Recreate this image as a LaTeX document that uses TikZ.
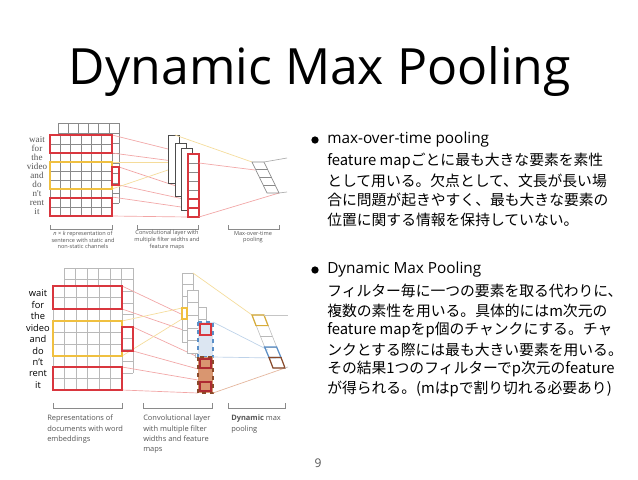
\documentclass[tikz,border=0pt]{standalone}
\usepackage{fontspec}
\setmainfont{Open Sans}
\newfontfamily\cjk{Noto Sans CJK JP}
\newfontfamily\serifw{Liberation Serif}
\definecolor{rd}{HTML}{D9363E}
\definecolor{ye}{HTML}{F0C040}
\definecolor{gr}{HTML}{8A8A8A}
\definecolor{pk}{HTML}{F2A5A5}
\definecolor{ly}{HTML}{F5DC9A}
\definecolor{bl}{HTML}{5A8FC8}
\definecolor{lb}{HTML}{DCE6F2}
\definecolor{or}{HTML}{D99670}
\definecolor{br}{HTML}{8A4A2A}
\definecolor{tx}{HTML}{555555}
\begin{document}
\begin{tikzpicture}[x=0.75pt,y=-0.75pt,
  grid/.style={draw=gr,line width=0.5pt},
  gridl/.style={draw=gr!60,line width=0.4pt},
  rbox/.style={draw=rd,line width=1pt},
  ybox/.style={draw=ye,line width=1pt},
  pl/.style={draw=pk,line width=0.5pt},
  yl/.style={draw=ly,line width=0.5pt},
  brk/.style={draw=gr,line width=0.5pt},
  sm/.style={font=\fontsize{4.2}{5}\selectfont,text=tx,align=center},
  lab/.style={font=\fontsize{5.6}{7.6}\selectfont,text=tx,align=left,anchor=north west,inner sep=0pt},
  jp/.style={font=\cjk\fontsize{11.1}{12}\selectfont,anchor=west,inner sep=0pt},
  bul/.style={font=\fontsize{11.5}{13}\selectfont,anchor=west,inner sep=0pt},
  dot/.style={circle,fill=black,inner sep=0pt,minimum size=5.5pt}]
\useasboundingbox (0,0) rectangle (638,479);
\fill[white] (0,0) rectangle (638,479);
\node (title) at (320,72) {\fontsize{37.5}{44}\selectfont Dynamic Max Pooling};
% ---------- right text
\node[dot] (b1) at (315,140) {};
\node[bul] (t1) at (327,140) {max-over-time pooling};
\node[jp] (j1) at (327,161) {feature mapごとに最も大きな要素を素性};
\node[jp] (j2) at (327,180.5) {として用いる。欠点として、文長が長い場};
\node[jp] (j3) at (327,200) {合に問題が起きやすく、最も大きな要素の};
\node[jp] (j4) at (327,219.5) {位置に関する情報を保持していない。};
\node[dot] (b2) at (315,270) {};
\node[bul] (t2) at (327,270) {Dynamic Max Pooling};
\node[jp] (k1) at (327,291) {フィルター毎に一つの要素を取る代わりに、};
\node[jp] (k2) at (327,310.5) {複数の素性を用いる。具体的にはm次元の};
\node[jp] (k3) at (327,330) {feature mapをp個のチャンクにする。チャ};
\node[jp] (k4) at (327,349.5) {ンクとする際には最も大きい要素を用いる。};
\node[jp] (k5) at (327,369) {その結果1つのフィルターでp次元のfeature};
\node[jp] (k6) at (327,388.5) {が得られる。(mはpで割り切れる必要あり)};
\node (pg) at (318,463) {\fontsize{9}{10}\selectfont\color{tx}9};
% ---------- top diagram
\fill[white] (58,123) rectangle (119,203);
\foreach \i in {0,...,6} \draw[grid] (58+\i*10.17,123) -- (58+\i*10.17,203);
\foreach \j in {0,...,8} \draw[grid] (58,123+\j*10) -- (119,123+\j*10);
\draw[pl] (112,135) -- (188,154);
\draw[pl] (112,153) -- (188,163);
\draw[pl] (119,167) -- (188,190);
\draw[pl] (119,185) -- (188,200);
\draw[pl] (112,197) -- (188,208);
\draw[pl] (112,216) -- (188,217);
\draw[yl] (112,162) -- (168,162);
\draw[yl] (112,189) -- (168,170);
\fill[white] (50,135) rectangle (112,216);
\foreach \i in {0,...,6} \draw[grid] (50+\i*10.33,135) -- (50+\i*10.33,216);
\foreach \j in {0,...,9} \draw[grid] (50,135+\j*9) -- (112,135+\j*9);
\draw[rbox] (50,135) rectangle (112,153);
\draw[ybox] (50,162) rectangle (112,189);
\draw[rbox] (50,198) rectangle (112,216);
\draw[rbox] (112,167) rectangle (119,185);
\foreach \w [count=\k from 0] in {wait,for,the,video,and,do,n't,rent,it}
  \node[font=\serifw\fontsize{6.8}{7}\selectfont,text=tx] (tw\k) at (37,139.5+\k*9) {\w};
\foreach \x/\a/\b in {168/135/183,175/143/196,181/148/210}{
  \fill[white] (\x,\a) rectangle (\x+11,\b);
  \draw[draw=black!70,line width=0.6pt] (\x,\a) rectangle (\x+11,\b);}
\fill[white] (188,154) rectangle (199,217);
\foreach \j in {0,...,7} \draw[grid] (188,154+\j*9) -- (199,154+\j*9);
\draw[rbox] (188,154) rectangle (199,217);
\draw[rbox] (188,199) rectangle (199,208);
\draw[yl] (175,135) -- (252,162);
\draw[pl] (199,163) -- (255,170);
\draw[pl] (199,217) -- (279,193);
\draw[grid] (252,162) -- (264,162) -- (279,193) -- (267,193) -- cycle;
\foreach \t in {0.25,0.5,0.75} \draw[grid] (252+15*\t,162+31*\t) -- (264+15*\t,162+31*\t);
\draw[gr!70,line width=0.5pt] (264,162) -- (287,158);
\draw[gr!70,line width=0.5pt] (279,193) -- (287,192);
\draw[brk] (50,225) -- (50,229) -- (112,229) -- (112,225);
\draw[brk] (137,225) -- (137,229) -- (198,229) -- (198,225);
\draw[brk] (228,225) -- (228,229) -- (279,229) -- (279,225);
\node[sm] (lt1) at (83,240) {\textit{n} × \textit{k} representation of\\sentence with static and\\non-static channels};
\node[sm] (lt2) at (167,240) {Convolutional layer with\\multiple filter widths and\\feature maps};
\node[sm] (lt3) at (253,237) {Max-over-time\\pooling};
% ---------- bottom diagram
\fill[white] (64,268) rectangle (133,373);
\foreach \i in {0,...,6} \draw[gridl] (64+\i*11.5,268) -- (64+\i*11.5,373);
\foreach \j in {0,...,9} \draw[gridl] (64,268+\j*11.67) -- (133,268+\j*11.67);
\draw[pl] (122,286) -- (200,323);
\draw[pl] (122,309) -- (198,335);
\draw[pl] (133,327) -- (198,357);
\draw[pl] (133,351) -- (198,369);
\draw[pl] (122,367) -- (198,380);
\draw[pl] (122,390) -- (198,393);
\draw[yl] (122,321) -- (182,308);
\draw[yl] (122,356) -- (182,319);
\fill[white] (53,286) rectangle (122,390);
\foreach \i in {0,...,6} \draw[gridl] (53+\i*11.5,286) -- (53+\i*11.5,390);
\foreach \j in {0,...,9} \draw[gridl] (53,286+\j*11.56) -- (122,286+\j*11.56);
\draw[rbox] (53,286) rectangle (122,309);
\draw[ybox] (53,321) rectangle (122,356);
\draw[rbox] (53,367) rectangle (122,390);
\draw[rbox] (122,327) rectangle (133,351);
\foreach \w [count=\k from 0] in {wait,for,the,video,and,do,n’t,rent,it}
  \node[font=\fontsize{7}{8}\selectfont] (bw\k) at (38,293+\k*11.5) {\w};
\fill[white] (195,307) rectangle (206,357);
\foreach \yy in {0,...,4} \draw[gridl] (195,307+\yy*12.5) -- (206,307+\yy*12.5);
\draw[gridl] (195,307) rectangle (206,357);
\fill[white] (182,273) rectangle (193,342);
\foreach \yy in {0,...,6} \draw[gridl] (182,273+\yy*11.5) -- (193,273+\yy*11.5);
\draw[gridl] (182,273) rectangle (193,342);
\fill[white] (187,290) rectangle (198,353);
\foreach \yy in {0,...,5} \draw[gridl] (187,290+\yy*12.6) -- (198,290+\yy*12.6);
\draw[gridl] (187,290) rectangle (198,353);
\draw[ybox] (182,308) rectangle (187,319);
\fill[lb] (198,322) rectangle (213,357);
\draw[bl,dashed,line width=0.9pt] (198,322) rectangle (213,357);
\draw[rbox] (200,324) rectangle (211,335);
\foreach \yy in {357,369,381}{
  \fill[or] (198,\yy) rectangle (213,\yy+12);}
\draw[br,dashed,line width=0.9pt] (198,357) rectangle (213,393);
\draw[rd!80!black,line width=0.8pt] (200,359) rectangle (211,368);
\draw[rd!80!black,line width=0.8pt] (200,382) rectangle (211,391);
\draw[yl] (193,273) -- (252,315);
\draw[draw=bl!40,line width=0.5pt] (213,322) -- (268,350);
\draw[draw=bl!40,line width=0.5pt] (213,357) -- (276,358);
\draw[draw=or!70,line width=0.5pt] (213,393) -- (285,368);
\draw[gridl] (252,315) -- (264,315) -- (285,368) -- (273,368) -- cycle;
\foreach \t in {0.2,0.4,0.6,0.8} \draw[gridl] (252+21*\t,315+53*\t) -- (264+21*\t,315+53*\t);
\draw[ye!90!black,line width=0.9pt] (252,315) -- (264,315) -- (268,325.6) -- (256,325.6) -- cycle;
\draw[bl,line width=0.9pt] (264.6,347) -- (276.6,347) -- (281,357.4) -- (269,357.4) -- cycle;
\draw[br,line width=0.9pt] (269,357.4) -- (281,357.4) -- (285,368) -- (273,368) -- cycle;
\draw[gr!50,line width=0.5pt] (264,315) -- (288,315);
\draw[gr!50,line width=0.5pt] (285,368) -- (288,367);
\draw[brk] (53,403) -- (53,408) -- (122,408) -- (122,403);
\draw[brk] (143,403) -- (143,408) -- (212,408) -- (212,403);
\draw[brk] (228,403) -- (228,408) -- (285,408) -- (285,403);
\node[lab] (lb1) at (47,415) {Representations of\\documents with word\\embeddings};
\node[lab] (lb2) at (143,415) {Convolutional layer\\with multiple filter\\widths and feature\\maps};
\node[lab] (lb3) at (231,415) {\textbf{Dynamic} max\\pooling};
\end{tikzpicture}
\end{document}
